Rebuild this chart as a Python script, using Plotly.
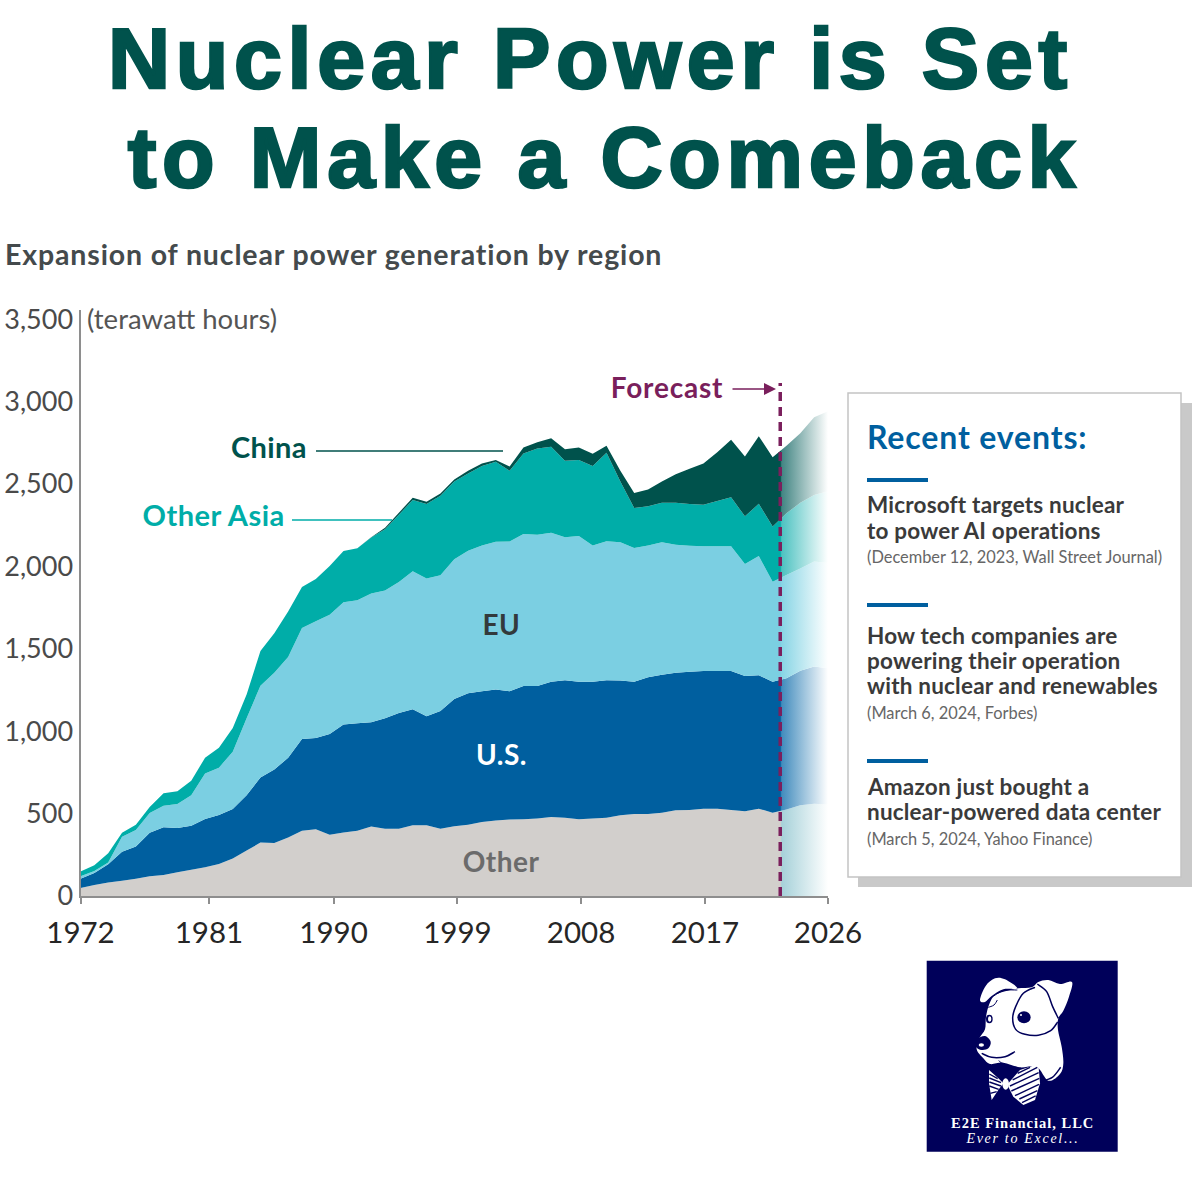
import json

import plotly.graph_objects as go

# ---- data: nuclear generation by region, terawatt hours -------------------
years = list(range(1972, 2027))
other = [48, 67, 82, 93, 105, 120, 127, 144, 160, 175, 194, 228, 276, 324, 321, 355, 396, 405, 372,
         386, 396, 422, 408, 408, 429, 429, 408, 424, 432, 449, 458, 464, 465, 470, 480, 475, 465,
         470, 475, 490, 497, 497, 505, 520, 522, 530, 530, 522, 515, 530, 505, 525, 550, 560, 555]
us = [57, 72, 110, 176, 195, 264, 290, 268, 267, 293, 298, 300, 336, 395, 446, 484, 556, 554, 611,
      655, 652, 633, 671, 702, 705, 662, 714, 771, 799, 793, 795, 778, 809, 804, 820, 834, 835,
      830, 834, 817, 803, 831, 838, 834, 839, 835, 835, 843, 820, 809, 795, 797, 817, 833, 827]
eu = [15, 12, 12, 91, 100, 120, 130, 147, 185, 275, 287, 347, 467, 557, 588, 612, 674, 708, 724,
      741, 746, 780, 775, 796, 837, 835, 825, 848, 864, 885, 896, 909, 923, 918, 905, 868, 884,
      827, 844, 840, 812, 799, 804, 778, 764, 758, 758, 758, 680, 724, 607, 626, 620, 637, 638]
other_asia = [29, 36, 55, 24, 32, 36, 76, 76, 88, 96, 120, 144, 144, 211, 240, 276, 249, 256, 295,
              312, 316, 340, 371, 408, 432, 453, 482, 473, 469, 482, 486, 430, 488, 523, 521, 464,
              462, 482, 536, 369, 242, 238, 240, 255, 253, 251, 274, 296, 289, 317, 335, 374, 400,
              404, 436]
china = [0, 0, 0, 0, 0, 0, 0, 0, 0, 0, 0, 0, 0, 0, 0, 0, 0, 0, 0, 0, 0, 2, 10, 12, 13, 13, 13, 11,
         17, 15, 11, 25, 36, 39, 52, 70, 75, 74, 43, 65, 91, 102, 129, 172, 214, 250, 296, 350,
         363, 410, 421, 410, 421, 471, 486]

x_labels = ["1972", "1981", "1990", "1999", "2008", "2017", "2026"]
# the printed year ticks sit a touch right of the yearly samples
x_tick_positions = [1972, 1981.28, 1990.28, 1999.23, 2008.16, 2017.11, 2026]
y_ticks = [0, 500, 1000, 1500, 2000, 2500, 3000, 3500]
forecast_start = 2022.55

W, H = 1200, 1202
BODY = "Lato"
DARK = "#333a3c"
TEAL = "#00ada8"
DEEP = "#00524c"
BLUE = "#005f9f"
PLUM = "#7a1f5c"


def px(x):
    return x / W


def py(y):
    return 1 - y / H


# each band stays solid up to the forecast line, then washes out towards white
f0 = (forecast_start - years[0]) / (years[-1] - years[0])


def fade(solid, washed):
    return dict(
        type="horizontal",
        start=years[0],
        stop=years[-1],
        colorscale=[[0, solid], [f0, solid], [f0 + 0.002, washed], [1, "#ffffff"]],
    )


bands = [
    ("Other", other, "#d2cfcc", "#a6d1d9"),
    ("U.S.", us, "#005f9f", "#428cbd"),
    ("EU", eu, "#7bcfe2", "#88d5e5"),
    ("Other Asia", other_asia, "#00ada8", "#4dc2c1"),
    ("China", china, "#00524c", "#428583"),
]

fig = go.Figure()
for name, values, solid, washed in bands:
    fig.add_trace(go.Scatter(
        x=years, y=values, name=name, mode="none", stackgroup="regions",
        fillgradient=fade(solid, washed), showlegend=False, hoverinfo="x+y+name",
    ))

shapes = []
annotations = []
tracking = {}


def rect(x0, y0, x1, y1, fill, line=None, lw=0):
    shapes.append(dict(type="rect", xref="paper", yref="paper", layer="above",
                       x0=px(x0), x1=px(x1), y0=py(y0), y1=py(y1), fillcolor=fill,
                       line=dict(color=line or fill, width=lw)))


def label(x, y, text, size, color, weight=400, anchor="left", family=BODY, italic=False, track=0):
    annotations.append(dict(xref="paper", yref="paper", x=px(x), y=py(y), text=text, showarrow=False,
                            xanchor=anchor, yanchor="middle", align=anchor,
                            font=dict(family=family, size=size, color=color, weight=weight,
                                      style="italic" if italic else "normal")))
    if track:
        tracking[text] = track


def hline(x0, x1, y, color, width):
    shapes.append(dict(type="line", xref="paper", yref="paper", layer="above",
                       x0=px(x0), x1=px(x1), y0=py(y), y1=py(y), line=dict(color=color, width=width)))


# ---- headline and chart heading -------------------------------------------
TITLE_TRACK = 5.7
label(590, 58, "Nuclear Power is Set", 86, DEEP, 700, "center", "Liberation Sans", track=TITLE_TRACK)
label(604, 157, "to Make a Comeback", 86, DEEP, 700, "center", "Liberation Sans", track=TITLE_TRACK)
label(3, 253.5, "Expansion of nuclear power generation by region", 28.5, "#444a4c", 700, track=0.86)
label(85, 318, "(terawatt hours)", 27.5, "#555555")

# ---- direct labels on the stack -------------------------------------------
label(269, 446, "China", 29, DEEP, 700, "center", track=0.4)
label(213, 514, "Other Asia", 29, TEAL, 700, "center", track=0.5)
label(501, 624, "EU", 28, DARK, 700, "center", track=0.5)
label(501, 754, "U.S.", 28, "#ffffff", 700, "center", track=0.5)
label(501, 860.5, "Other", 28, "#6b6b6b", 700, "center", track=0.5)
hline(316, 503, 451, DEEP, 1.5)
hline(292, 392, 520, TEAL, 1.5)

# ---- forecast marker ------------------------------------------------------
label(667, 387.5, "Forecast", 28, PLUM, 700, "center", track=0.8)
annotations.append(dict(xref="paper", yref="paper", x=px(776), y=py(389), ax=-45, ay=0, text="",
                        showarrow=True, arrowhead=2, arrowsize=1.5, arrowwidth=1.6, arrowcolor=PLUM))
shapes.append(dict(type="line", xref="x", yref="paper", layer="above",
                   x0=forecast_start, x1=forecast_start, y0=py(896), y1=py(383),
                   line=dict(color=PLUM, width=3.5, dash="9px,6px")))

# ---- recent events card ---------------------------------------------------
rect(858, 403, 1192, 887, "#c9c9c9")
rect(848, 393, 1181, 877, "#ffffff", "#c4c4c4", 1.5)
label(865, 436, "Recent events:", 32, BLUE, 700, track=0.85)

HEAD = 22.5
NOTE = 16.4
for y in (480, 605, 761):
    rect(867, y - 2, 928, y + 2, BLUE)
for y, text in ((504.5, "Microsoft targets nuclear"), (530.5, "to power AI operations"),
                (635.5, "How tech companies are"), (660.5, "powering their operation"),
                (685.5, "with nuclear and renewables"), (786.5, "Amazon just bought a"),
                (811.5, "nuclear-powered data center")):
    label(865, y, text, HEAD, "#3a3a3a", 700, track=0.2)
for y, text in ((556, "(December 12, 2023, Wall Street Journal)"), (712, "(March 6, 2024, Forbes)"),
                (838, "(March 5, 2024, Yahoo Finance)")):
    label(865, y, text, NOTE, "#666666")

# ---- logo: navy badge with a dog in a bow tie ------------------------------
NAVY = "#00005a"
rect(926.7, 960.7, 1117.7, 1151.7, NAVY)


def lx(u):
    return px(920 + u / 3)


def ly(v):
    return py(950 + v / 3)


def art(points, fill=None, stroke=None, width=1.5, closed=True, smooth=False):
    """Add a polyline (or Catmull-Rom curve) given in badge-local units."""
    pts = [(lx(u), ly(v)) for u, v in points]
    n = len(pts)
    d = f"M {pts[0][0]:.5f} {pts[0][1]:.5f}"
    if smooth:
        for i in range(n if closed else n - 1):
            p0 = pts[(i - 1) % n] if (closed or i > 0) else pts[i]
            p1 = pts[i]
            p2 = pts[(i + 1) % n]
            p3 = pts[(i + 2) % n] if (closed or i + 2 < n) else p2
            c1 = (p1[0] + (p2[0] - p0[0]) / 6, p1[1] + (p2[1] - p0[1]) / 6)
            c2 = (p2[0] - (p3[0] - p1[0]) / 6, p2[1] - (p3[1] - p1[1]) / 6)
            d += f" C {c1[0]:.5f} {c1[1]:.5f} {c2[0]:.5f} {c2[1]:.5f} {p2[0]:.5f} {p2[1]:.5f}"
    else:
        d += "".join(f" L {x:.5f} {y:.5f}" for x, y in pts[1:])
    if closed:
        d += " Z"
    shapes.append(dict(type="path", xref="paper", yref="paper", layer="above", path=d,
                       fillcolor=fill or "rgba(0,0,0,0)",
                       line=dict(color=stroke or "rgba(0,0,0,0)", width=width if stroke else 0)))


def blob(cu, cv, ru, rv, fill):
    shapes.append(dict(type="circle", xref="paper", yref="paper", layer="above",
                       x0=lx(cu - ru), x1=lx(cu + ru), y0=ly(cv - rv), y1=ly(cv + rv),
                       fillcolor=fill, line=dict(width=0)))


head_outline = [(225, 135), (262, 122), (295, 115), (335, 112), (355, 96), (385, 90), (420, 102), (456, 96),
                (447, 140), (430, 182), (415, 205), (414, 240), (425, 290), (430, 340), (420, 372),
                (385, 392), (350, 350), (300, 352), (250, 338), (210, 342), (190, 325),
                (170, 298), (178, 265), (195, 238), (198, 200), (208, 162)]
flap = [(180, 150), (197, 108), (225, 85), (255, 88), (292, 115), (250, 118), (215, 138), (195, 156)]
art(head_outline, fill="#ffffff", smooth=True)
art(flap, fill="#ffffff", smooth=True)
art([(345, 112), (310, 130), (287, 170), (278, 205), (287, 238), (315, 253), (355, 256), (392, 242), (413, 216)],
    stroke=NAVY, closed=False, smooth=True)
art([(352, 102), (380, 125), (398, 170), (415, 205)], stroke=NAVY, closed=False, smooth=True)
art([(215, 142), (250, 122), (292, 120)], stroke=NAVY, closed=False, width=1, smooth=True)
art([(205, 172), (222, 165), (232, 150)], stroke=NAVY, closed=False, width=1, smooth=True)
blob(312, 202, 20, 18, NAVY)
blob(303, 195, 3, 3, "#ffffff")
blob(208, 207, 10, 13, NAVY)
blob(209, 207, 5, 8, "#ffffff")
art([(172, 268), (195, 258), (212, 275), (205, 295), (185, 300), (168, 290)], fill=NAVY, smooth=True)
blob(184, 285, 8, 5, "#ffffff")
art([(185, 310), (215, 322), (255, 320), (285, 305)], stroke=NAVY, closed=False, smooth=True)
art([(422, 352), (397, 382), (360, 395)], stroke=NAVY, closed=False, smooth=True)
art([(236, 332), (255, 345), (290, 352)], stroke=NAVY, closed=False, width=1, smooth=True)

art([(265, 400), (300, 360), (355, 342), (360, 400), (345, 450), (310, 465), (280, 440), (265, 410)], fill="#ffffff")
art([(207, 360), (235, 385), (250, 400), (235, 420), (215, 450), (207, 400)], fill="#ffffff")
blob(257, 402, 10, 17, "#ffffff")
for seg in ([(293, 370), (330, 352)], [(278, 390), (352, 352)], [(270, 408), (356, 368)],
            [(274, 423), (358, 385)], [(285, 437), (357, 403)], [(298, 447), (352, 422)],
            [(306, 458), (347, 438)], [(208, 372), (233, 386)], [(208, 384), (243, 398)],
            [(208, 396), (243, 408)], [(208, 408), (236, 418)], [(211, 430), (230, 425)]):
    art(seg, stroke=NAVY, closed=False, width=1.4)

label(1022.5, 1122.5, "E2E Financial, LLC", 14.5, "#ffffff", 700, "center", "Liberation Serif", track=1)
label(1022.5, 1138, "Ever to Excel...", 14, "#ffffff", 400, "center", "Liberation Serif", italic=True, track=1.7)

# ---- axes and page ---------------------------------------------------------
fig.update_layout(
    width=W, height=H, margin=dict(l=0, r=0, t=0, b=0), autosize=False,
    paper_bgcolor="#ffffff", plot_bgcolor="rgba(0,0,0,0)",
    shapes=shapes, annotations=annotations,
    xaxis=dict(domain=[px(80.5), px(828)], range=[years[0], years[-1]], tickmode="array",
               tickvals=x_tick_positions, ticktext=x_labels, ticklabelstandoff=4,
               automargin=False, showgrid=False, zeroline=False, showline=True, linecolor="#8e8e8e",
               linewidth=2, ticks="outside", ticklen=6, tickcolor="#8e8e8e", tickwidth=1.5,
               tickfont=dict(family=BODY, size=29.5, color="#262626")),
    yaxis=dict(domain=[py(896), py(310)], range=[0, 3556], tickmode="array", tickvals=y_ticks,
               automargin=False, tickformat=",d", showgrid=False, zeroline=False, showline=True,
               linecolor="#8e8e8e", linewidth=2, ticks="",
               tickfont=dict(family=BODY, size=27, color="#4a4a4a")),
)

# letter-spacing per text run, plus a heavier stroke on the headline
script = """
var spacing = %s;
var headline = %s;
document.querySelectorAll('.annotation-text').forEach(function (t) {
  var s = spacing[t.textContent];
  if (s) { t.style.letterSpacing = s + 'px'; }
  if (s === headline) { t.style.stroke = '#00524c'; t.style.strokeWidth = '2.6px'; }
});
""" % (json.dumps(tracking), json.dumps(TITLE_TRACK))
fig.write_html("out.html", post_script=script)
